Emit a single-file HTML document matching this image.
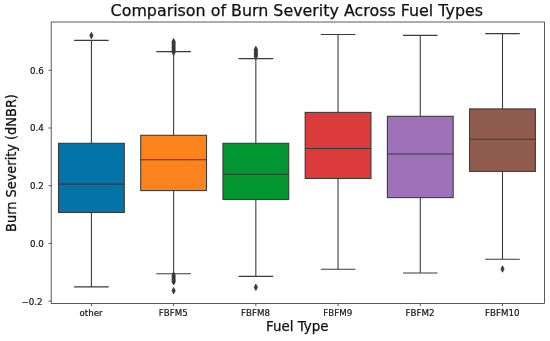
<!DOCTYPE html>
<html><head><meta charset="utf-8"><title>Comparison of Burn Severity Across Fuel Types</title>
<style>html,body{margin:0;padding:0;background:#fff}svg{display:block}text{font-family:"DejaVu Sans","Liberation Sans",sans-serif;fill:#111}</style></head><body>
<svg width="550" height="341" viewBox="0 0 550 341">
<rect width="550" height="341" fill="#fff"/>
<g stroke="#3a3a3a" stroke-width="1.08" fill="none">
<line x1="91.40" y1="40.4" x2="91.40" y2="143.3"/>
<line x1="91.40" y1="212.5" x2="91.40" y2="286.9"/>
<line x1="74.10" y1="40.4" x2="108.70" y2="40.4"/>
<line x1="74.10" y1="286.9" x2="108.70" y2="286.9"/>
<rect x="58.50" y="143.3" width="65.80" height="69.20" fill="#0473a8"/>
<line x1="58.50" y1="184.1" x2="124.30" y2="184.1"/>
</g>
<g fill="#3a3a3a" stroke="#3a3a3a" stroke-width="0.8" stroke-linejoin="miter">
<polygon points="91.40,32.35 93.05,35.60 91.40,38.85 89.75,35.60"/>
</g>
<g stroke="#3a3a3a" stroke-width="1.08" fill="none">
<line x1="173.62" y1="51.6" x2="173.62" y2="135.3"/>
<line x1="173.62" y1="190.6" x2="173.62" y2="273.8"/>
<line x1="156.32" y1="51.6" x2="190.92" y2="51.6"/>
<line x1="156.32" y1="273.8" x2="190.92" y2="273.8"/>
<rect x="140.72" y="135.3" width="65.80" height="55.30" fill="#fd841c"/>
<line x1="140.72" y1="159.7" x2="206.52" y2="159.7"/>
</g>
<g fill="#3a3a3a" stroke="#3a3a3a" stroke-width="0.8" stroke-linejoin="miter">
<polygon points="173.62,38.45 175.27,41.70 173.62,44.95 171.97,41.70"/>
<polygon points="173.62,39.75 175.27,43.00 173.62,46.25 171.97,43.00"/>
<polygon points="173.62,41.25 175.27,44.50 173.62,47.75 171.97,44.50"/>
<polygon points="173.62,42.75 175.27,46.00 173.62,49.25 171.97,46.00"/>
<polygon points="173.62,44.25 175.27,47.50 173.62,50.75 171.97,47.50"/>
<polygon points="173.62,45.75 175.27,49.00 173.62,52.25 171.97,49.00"/>
<polygon points="173.62,47.25 175.27,50.50 173.62,53.75 171.97,50.50"/>
<polygon points="173.62,48.95 175.27,52.20 173.62,55.45 171.97,52.20"/>
<polygon points="173.62,271.85 175.27,275.10 173.62,278.35 171.97,275.10"/>
<polygon points="173.62,273.25 175.27,276.50 173.62,279.75 171.97,276.50"/>
<polygon points="173.62,274.75 175.27,278.00 173.62,281.25 171.97,278.00"/>
<polygon points="173.62,276.25 175.27,279.50 173.62,282.75 171.97,279.50"/>
<polygon points="173.62,277.75 175.27,281.00 173.62,284.25 171.97,281.00"/>
<polygon points="173.62,278.45 175.27,281.70 173.62,284.95 171.97,281.70"/>
<polygon points="173.62,287.45 175.27,290.70 173.62,293.95 171.97,290.70"/>
</g>
<g stroke="#3a3a3a" stroke-width="1.08" fill="none">
<line x1="255.84" y1="58.6" x2="255.84" y2="143.3"/>
<line x1="255.84" y1="199.5" x2="255.84" y2="276.4"/>
<line x1="238.54" y1="58.6" x2="273.14" y2="58.6"/>
<line x1="238.54" y1="276.4" x2="273.14" y2="276.4"/>
<rect x="222.94" y="143.3" width="65.80" height="56.20" fill="#029630"/>
<line x1="222.94" y1="174.2" x2="288.74" y2="174.2"/>
</g>
<g fill="#3a3a3a" stroke="#3a3a3a" stroke-width="0.8" stroke-linejoin="miter">
<polygon points="255.84,46.25 257.49,49.50 255.84,52.75 254.19,49.50"/>
<polygon points="255.84,47.55 257.49,50.80 255.84,54.05 254.19,50.80"/>
<polygon points="255.84,48.95 257.49,52.20 255.84,55.45 254.19,52.20"/>
<polygon points="255.84,50.35 257.49,53.60 255.84,56.85 254.19,53.60"/>
<polygon points="255.84,51.75 257.49,55.00 255.84,58.25 254.19,55.00"/>
<polygon points="255.84,52.95 257.49,56.20 255.84,59.45 254.19,56.20"/>
<polygon points="255.84,284.05 257.49,287.30 255.84,290.55 254.19,287.30"/>
</g>
<g stroke="#3a3a3a" stroke-width="1.08" fill="none">
<line x1="338.06" y1="34.5" x2="338.06" y2="112.4"/>
<line x1="338.06" y1="178.5" x2="338.06" y2="269.2"/>
<line x1="320.76" y1="34.5" x2="355.36" y2="34.5"/>
<line x1="320.76" y1="269.2" x2="355.36" y2="269.2"/>
<rect x="305.16" y="112.4" width="65.80" height="66.10" fill="#dc3b3b"/>
<line x1="305.16" y1="148.5" x2="370.96" y2="148.5"/>
</g>
<g stroke="#3a3a3a" stroke-width="1.08" fill="none">
<line x1="420.28" y1="35.4" x2="420.28" y2="116.3"/>
<line x1="420.28" y1="197.6" x2="420.28" y2="273.0"/>
<line x1="402.98" y1="35.4" x2="437.58" y2="35.4"/>
<line x1="402.98" y1="273.0" x2="437.58" y2="273.0"/>
<rect x="387.38" y="116.3" width="65.80" height="81.30" fill="#9d72b8"/>
<line x1="387.38" y1="154.0" x2="453.18" y2="154.0"/>
</g>
<g stroke="#3a3a3a" stroke-width="1.08" fill="none">
<line x1="502.50" y1="33.6" x2="502.50" y2="108.9"/>
<line x1="502.50" y1="171.4" x2="502.50" y2="259.2"/>
<line x1="485.20" y1="33.6" x2="519.80" y2="33.6"/>
<line x1="485.20" y1="259.2" x2="519.80" y2="259.2"/>
<rect x="469.60" y="108.9" width="65.80" height="62.50" fill="#915c50"/>
<line x1="469.60" y1="139.2" x2="535.40" y2="139.2"/>
</g>
<g fill="#3a3a3a" stroke="#3a3a3a" stroke-width="0.8" stroke-linejoin="miter">
<polygon points="502.50,265.75 504.15,269.00 502.50,272.25 500.85,269.00"/>
</g>
<rect x="51.2" y="22.0" width="493.40" height="281.55" fill="none" stroke="#333" stroke-width="0.8"/>
<g stroke="#333" stroke-width="0.8">
<line x1="48.50" y1="70.3" x2="51.2" y2="70.3"/>
<line x1="48.50" y1="128.0" x2="51.2" y2="128.0"/>
<line x1="48.50" y1="185.7" x2="51.2" y2="185.7"/>
<line x1="48.50" y1="243.4" x2="51.2" y2="243.4"/>
<line x1="48.50" y1="301.1" x2="51.2" y2="301.1"/>
<line x1="91.40" y1="303.55" x2="91.40" y2="306.25"/>
<line x1="173.62" y1="303.55" x2="173.62" y2="306.25"/>
<line x1="255.84" y1="303.55" x2="255.84" y2="306.25"/>
<line x1="338.06" y1="303.55" x2="338.06" y2="306.25"/>
<line x1="420.28" y1="303.55" x2="420.28" y2="306.25"/>
<line x1="502.50" y1="303.55" x2="502.50" y2="306.25"/>
</g>
<g font-size="8.7" text-anchor="end" stroke="#222" stroke-width="0.2">
<text x="43.9" y="73.75">0.6</text>
<text x="43.9" y="131.45">0.4</text>
<text x="43.9" y="189.15">0.2</text>
<text x="43.9" y="246.85">0.0</text>
<text x="42.6" y="304.55">−0.2</text>
</g>
<g font-size="8.7" text-anchor="middle" stroke="#222" stroke-width="0.2">
<text x="91.10" y="315.9">other</text>
<text x="173.32" y="315.9">FBFM5</text>
<text x="255.54" y="315.9">FBFM8</text>
<text x="337.76" y="315.9">FBFM9</text>
<text x="419.98" y="315.9">FBFM2</text>
<text x="502.20" y="315.9">FBFM10</text>
</g>
<text id="xl" x="297.2" y="331.3" font-size="13.4" text-anchor="middle" stroke="#111" stroke-width="0.25">Fuel Type</text>
<text id="yl" transform="translate(15.5,163.0) rotate(-90) scale(1,1.15)" font-size="12.95" text-anchor="middle" stroke="#111" stroke-width="0.25">Burn Severity (dNBR)</text>
<text id="ti" x="296.8" y="16.45" font-size="15.88" text-anchor="middle" stroke="#111" stroke-width="0.25">Comparison of Burn Severity Across Fuel Types</text>
</svg></body></html>
